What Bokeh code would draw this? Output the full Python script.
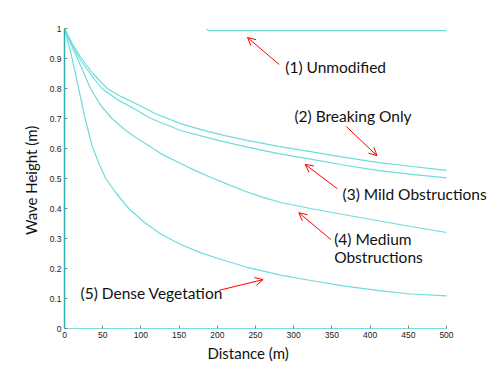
from bokeh.plotting import figure
from bokeh.models import Range1d, FixedTicker, Label, Arrow, OpenHead, Title
from bokeh.embed import file_html
from bokeh.resources import INLINE

# ---- data ----
x1 = [186, 188, 500]
y1 = [1.0, 0.993, 0.993]

x2 = [0, 10, 21, 37, 56, 75, 93, 120, 152, 180, 210, 239, 280, 326, 365, 409, 455, 500]
y2 = [1.0, 0.95, 0.905, 0.85, 0.80, 0.772, 0.75, 0.715, 0.683, 0.662, 0.643, 0.627, 0.607, 0.588, 0.571, 0.554, 0.54, 0.527]

x3 = [0, 10, 21, 35, 49, 70, 93, 113, 152, 200, 241, 280, 326, 365, 409, 455, 500]
y3 = [1.0, 0.945, 0.895, 0.845, 0.80, 0.762, 0.73, 0.70, 0.66, 0.628, 0.604, 0.583, 0.563, 0.545, 0.527, 0.514, 0.502]

x4 = [0, 8, 17, 34, 47, 62, 78, 93, 110, 126, 152, 175, 195, 217, 239, 260, 283, 322, 365, 409, 453, 500]
y4 = [1.0, 0.95, 0.90, 0.80, 0.745, 0.70, 0.665, 0.637, 0.61, 0.583, 0.55, 0.522, 0.50, 0.477, 0.455, 0.437, 0.42, 0.40, 0.38, 0.36, 0.34, 0.32]

x5 = [0, 10, 18.5, 27, 36, 45, 54, 68, 84, 104, 126, 152, 178, 205, 239, 283, 322, 365, 409, 453, 500]
y5 = [1.0, 0.90, 0.80, 0.70, 0.61, 0.55, 0.50, 0.45, 0.40, 0.355, 0.315, 0.28, 0.253, 0.23, 0.204, 0.178, 0.16, 0.142, 0.127, 0.115, 0.109]

x_ticks = [0, 50, 100, 150, 200, 250, 300, 350, 400, 450, 500]
x_tick_labels = ["0", "50", "100", "150", "200", "250", "300", "350", "400", "450", "500"]
y_ticks = [0, 0.1, 0.2, 0.3, 0.4, 0.5, 0.6, 0.7, 0.8, 0.9, 1.0]
y_tick_labels = ["0", "0.1", "0.2", "0.3", "0.4", "0.5", "0.6", "0.7", "0.8", "0.9", "1"]

annotations = ["(1) Unmodified", "(2) Breaking Only", "(3) Mild Obstructions",
               "(4) Medium", "Obstructions", "(5) Dense Vegetation"]

CURVE = "#6fdcdc"
FONT = "Lato"

# frame extends to the right so the annotation texts are not clipped;
# the axis itself is bounded to 0..500
p = figure(width=493, height=369, output_backend="svg", toolbar_location=None,
           x_range=Range1d(0, 555), y_range=Range1d(0, 1),
           min_border_left=64, min_border_right=5, min_border_top=28, min_border_bottom=41)
p.outline_line_color = None
p.xgrid.visible = False
p.ygrid.visible = False
p.background_fill_color = "white"

for xs, ys in [(x1, y1), (x2, y2), (x3, y3), (x4, y4), (x5, y5)]:
    p.line(xs, ys, line_color=CURVE, line_width=1.2)

# axes
p.xaxis.bounds = (0, 500)
p.xaxis.ticker = FixedTicker(ticks=x_ticks)
p.yaxis.ticker = FixedTicker(ticks=y_ticks)
p.xaxis.major_label_overrides = {t: l for t, l in zip(x_ticks, x_tick_labels)}
p.yaxis.major_label_overrides = {t: l for t, l in zip(y_ticks, y_tick_labels)}
for ax in (p.xaxis, p.yaxis):
    ax.major_tick_in = 3
    ax.major_tick_out = 0
    ax.minor_tick_in = 0
    ax.minor_tick_out = 0
    ax.major_tick_line_color = "#888888"
    ax.major_label_text_font = "Liberation Sans"
    ax.major_label_text_font_size = "8.5px"
    ax.major_label_text_color = "#222222"
    ax.major_label_standoff = 3
    ax.axis_label_text_font = FONT
    ax.axis_label_text_font_size = "15px"
    ax.axis_label_text_font_style = "normal"
    ax.axis_label_text_color = "#111111"
p.xaxis.axis_line_color = "#7fdcdc"
p.yaxis.axis_line_color = "#2fb0b0"
p.yaxis.axis_line_width = 1.5
p.yaxis.axis_label = "Wave Height  (m)"
p.yaxis.axis_label_standoff = 7

# x-axis title, centred under the 0..500 axis (not the wider frame)
p.add_layout(Title(text="Distance (m)", align="left", offset=143, standoff=2,
                   text_font=FONT, text_font_size="15px", text_font_style="normal",
                   text_color="#111111"), "below")

# annotation texts
label_pos = [(289, 0.873), (301, 0.707), (364, 0.45), (353, 0.30), (353, 0.237), (21, 0.12)]
for txt, (lx, ly) in zip(annotations, label_pos):
    p.add_layout(Label(x=lx, y=ly, text=txt, text_font=FONT, text_font_size="15.5px",
                       text_baseline="middle", text_align="left", text_color="#111111"))

# red arrows (tail -> head)
arrows = [((281, 0.88), (239.5, 0.97)),
          ((369, 0.673), (409, 0.576)),
          ((357, 0.466), (315, 0.547)),
          ((349, 0.296), (306.7, 0.386)),
          ((202, 0.127), (260, 0.163))]
for (xs_, ys_), (xe, ye) in arrows:
    p.add_layout(Arrow(x_start=xs_, y_start=ys_, x_end=xe, y_end=ye,
                       line_color="red", line_width=1,
                       end=OpenHead(size=8, line_color="red", line_width=1)))

open("out.html", "w").write(file_html(p, INLINE))
